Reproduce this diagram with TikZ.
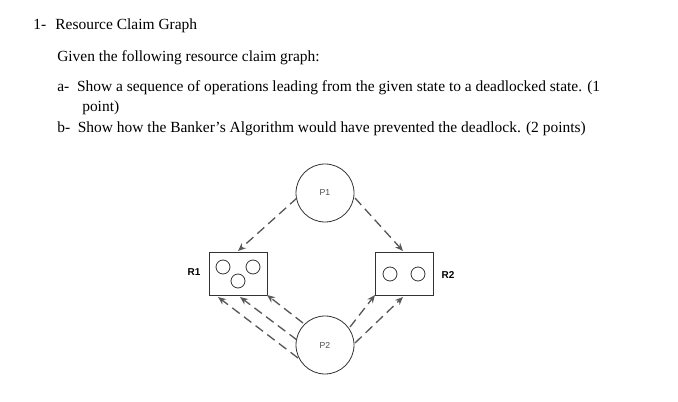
\documentclass[tikz,border=0pt]{standalone}
\usepackage{fontspec}
\setmainfont{Liberation Serif}
\newfontfamily\lsans{Liberation Sans}
\usetikzlibrary{arrows.meta}
\begin{document}
\begin{tikzpicture}[x=0.75pt,y=-0.75pt,
  txt/.style={anchor=base west,inner sep=0,font=\fontsize{11.6}{14}\selectfont},
  proc/.style={circle,draw=black!80,line width=0.6pt,minimum size=58*0.75pt,inner sep=0,font=\lsans\fontsize{6.5}{8}\selectfont,text=black!70},
  res/.style={draw=black!80,line width=0.6pt,minimum width=58*0.75pt,minimum height=43*0.75pt,inner sep=0},
  unit/.style={circle,draw=black!80,line width=0.6pt,minimum size=14*0.75pt,inner sep=0},
  lbl/.style={font=\lsans\bfseries\fontsize{7.5}{9}\selectfont},
  edge/.style={draw=black!65,line width=1pt,dash pattern=on 7pt off 4pt,-{Stealth[length=6pt,width=5pt]}}]
\useasboundingbox (0,0) rectangle (678,402);
\node[txt] (t1) at (33,30) {1-\hspace{0.6em}Resource Claim Graph};
\node[txt] (t2) at (57,62) {Given the following resource claim graph:};
\node[txt] (t3) at (57,92) {a-\hspace{0.5em}Show a sequence of operations leading from the given state to a deadlocked state. (1};
\node[txt] (t4) at (82,112) {point)};
\node[txt] (t5) at (57,133) {b-\hspace{0.5em}Show how the Banker's Algorithm would have prevented the deadlock. (2 points)};
\node[proc] (P1) at (325,193) {P1};
\node[proc] (P2) at (325,345) {P2};
\node[res] (R1) at (238,273.5) {};
\node[res] (R2) at (404.5,273.5) {};
\node[unit] (u1) at (223,267) {};
\node[unit] (u2) at (253,267) {};
\node[unit] (u3) at (238,281) {};
\node[unit] (u4) at (390,274) {};
\node[unit] (u5) at (418,274) {};
\node[lbl] (l1) at (194,272) {R1};
\node[lbl] (l2) at (448,275) {R2};
\coordinate (a1) at (297,198); \coordinate (b1) at (238,251);
\coordinate (a2) at (355,198); \coordinate (b2) at (403,251);
\coordinate (a3) at (303,323); \coordinate (b3) at (267,295);
\coordinate (a4) at (297,340); \coordinate (b4) at (240,297);
\coordinate (a5) at (298,358); \coordinate (b5) at (218,297);
\coordinate (a6) at (350,327); \coordinate (b6) at (375,295);
\coordinate (a7) at (355,343); \coordinate (b7) at (403,297);
\foreach \i in {1,...,7} {\draw[edge] (a\i) -- (b\i);}
\end{tikzpicture}
\end{document}
